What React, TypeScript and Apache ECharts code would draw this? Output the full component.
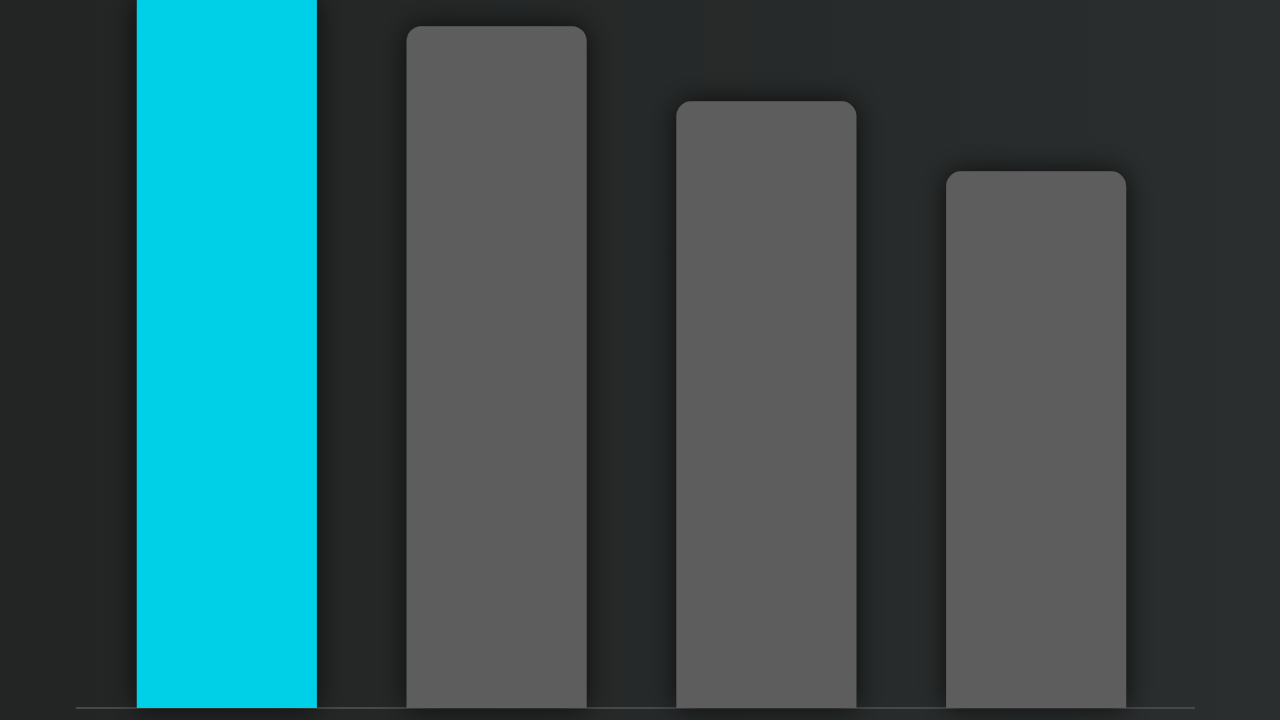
import React, { useEffect, useRef } from "react";
import * as echarts from "echarts";

// categories and values (axis max = 100 at the top edge)
const categories = ["A", "B", "C", "D"];
const values = [104, 96.3, 85.7, 75.8];
const barColors = ["#06cfe8", "#5d5d5d", "#5d5d5d", "#5d5d5d"];

const App = () => {
  const chartRef = useRef<HTMLDivElement>(null);

  useEffect(() => {
    if (!chartRef.current) return;
    const chart = echarts.init(chartRef.current, undefined, { renderer: "svg" });

    const options = {
      animation: false,
      backgroundColor: {
        type: "linear",
        x: 0,
        y: 0,
        x2: 1,
        y2: 0,
        colorStops: [
          { offset: 0, color: "#232424" },
          { offset: 1, color: "#2a2e2e" },
        ],
      },
      grid: { left: 92, right: 109, top: 0, bottom: 12 },
      xAxis: {
        type: "category",
        data: categories,
        axisLine: { show: false },
        axisTick: { show: false },
        axisLabel: { show: false },
      },
      yAxis: {
        type: "value",
        min: 0,
        max: 100,
        show: false,
        splitLine: { show: false },
      },
      graphic: [
        {
          type: "rect",
          shape: { x: 76, y: 707, width: 1119, height: 2 },
          style: { fill: "#464849" },
          z: 0,
        },
      ],
      series: [
        {
          type: "bar",
          barWidth: 180,
          clip: true,
          z: 2,
          data: values.map((v, i) => ({
            value: v,
            itemStyle: {
              color: barColors[i],
              borderRadius: i === 0 ? 0 : [15, 15, 0, 0],
              shadowBlur: 28,
              shadowColor: "rgba(0,0,0,0.7)",
            },
          })),
        },
      ],
    };

    chart.setOption(options);
    return () => {
      chart.dispose();
    };
  }, []);

  return (
    <div
      ref={chartRef}
      style={{ position: "fixed", left: 0, top: 0, width: "1280px", height: "720px" }}
    />
  );
};

export default App;
